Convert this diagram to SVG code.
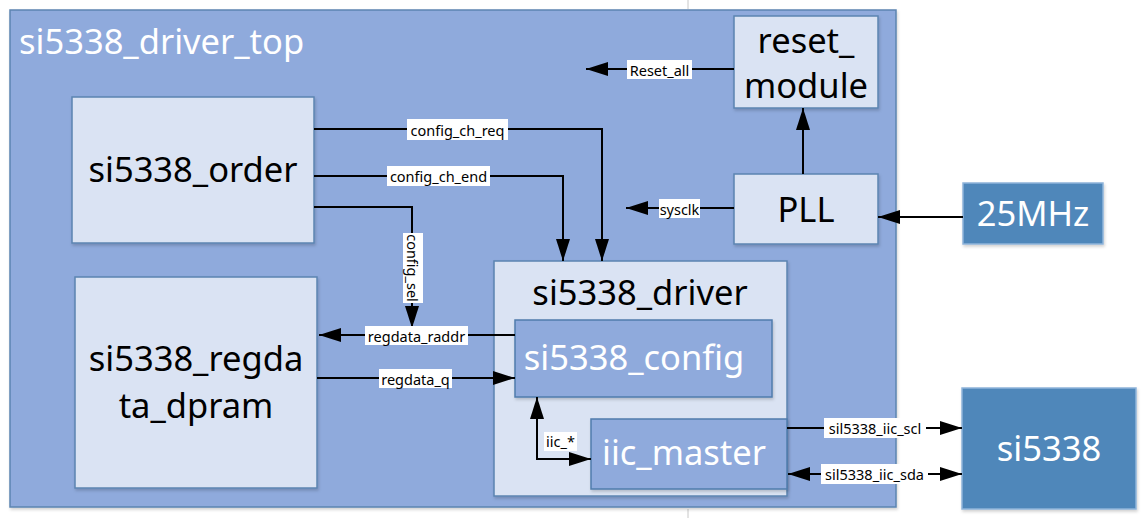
<svg xmlns="http://www.w3.org/2000/svg" width="1143" height="518" viewBox="0 0 1143 518">
<defs>
<marker id="ah" markerUnits="userSpaceOnUse" markerWidth="22" markerHeight="14" refX="22" refY="7" orient="auto-start-reverse" viewBox="0 0 22 14">
<path d="M0,0 L22,7 L0,14 z" fill="#000"/>
</marker>
<filter id="sh" x="-5%" y="-5%" width="110%" height="115%">
<feDropShadow dx="1" dy="2" stdDeviation="1.5" flood-color="#000" flood-opacity="0.18"/>
</filter>
<style>
.outer{fill:#8faadc;stroke:#5b84b1;stroke-width:1.5}
.light{fill:#dae3f3;stroke:#5b84b1;stroke-width:1.5}
.mid{fill:#8faadc;stroke:#4f7cac;stroke-width:1.5}
.dark{fill:#4f87ba;stroke:#8eb4da;stroke-width:1.5}
.big{font-family:"Noto Sans","Open Sans",sans-serif;font-size:34.5px;fill:#000;text-anchor:middle}
.bigw{font-family:"Noto Sans","Open Sans",sans-serif;font-size:34.5px;fill:#fff;text-anchor:middle}
.ln{fill:none;stroke:#000;stroke-width:2}
.lb{fill:#fff}
.lt{font-family:"Noto Sans","Open Sans",sans-serif;font-size:14.5px;fill:#000;text-anchor:middle;dominant-baseline:central}
</style>
</defs>
<rect width="1143" height="518" fill="#fff"/>
<line x1="688" y1="0" x2="688" y2="9" stroke="#c8c8c8" stroke-width="1"/>
<line x1="688" y1="509" x2="688" y2="518" stroke="#c8c8c8" stroke-width="1"/>

<g id="si5338_driver_top">
<rect class="outer" x="10" y="10" width="886" height="497" filter="url(#sh)"/>
<text class="bigw" x="19" y="54" style="text-anchor:start">si5338_driver_top</text>
</g>

<g id="si5338_order">
<rect class="light" x="72" y="97" width="242" height="146" filter="url(#sh)"/>
<text class="big" x="193" y="182">si5338_order</text>
</g>

<g id="si5338_regdata_dpram">
<rect class="light" x="75" y="277" width="242" height="211" filter="url(#sh)"/>
<text class="big" x="196" y="371">si5338_regda</text>
<text class="big" x="196" y="418">ta_dpram</text>
</g>

<g id="reset_module">
<rect class="light" x="734" y="16" width="144" height="92" filter="url(#sh)"/>
<text class="big" x="806" y="53">reset_</text>
<text class="big" x="806" y="98">module</text>
</g>

<g id="PLL">
<rect class="light" x="734" y="174" width="144" height="70" filter="url(#sh)"/>
<text class="big" x="806" y="222">PLL</text>
</g>

<g id="osc_25MHz">
<rect class="dark" x="963" y="183" width="140" height="61" filter="url(#sh)"/>
<text class="bigw" x="1033" y="226">25MHz</text>
</g>

<g id="si5338_driver">
<rect class="light" x="494" y="261" width="293" height="235" filter="url(#sh)"/>
<text class="big" x="640" y="305">si5338_driver</text>
</g>

<g id="si5338_config">
<rect class="mid" x="515" y="320" width="257" height="77" filter="url(#sh)"/>
<text class="bigw" x="634" y="370">si5338_config</text>
</g>

<g id="iic_master">
<rect class="mid" x="591" y="419" width="196" height="70" filter="url(#sh)"/>
<text class="bigw" x="684" y="465">iic_master</text>
</g>

<g id="si5338">
<rect class="dark" x="962" y="388" width="174" height="121" filter="url(#sh)"/>
<text class="bigw" x="1049" y="461">si5338</text>
</g>

<g id="connectors">
<path class="ln" d="M963,217 H878" marker-end="url(#ah)"/>
<path class="ln" d="M803,174 V108" marker-end="url(#ah)"/>
<path class="ln" d="M734,69 H586" marker-end="url(#ah)"/>
<rect class="lb" x="627" y="60" width="65" height="19"/>
<text class="lt" x="659.5" y="69.5">Reset_all</text>
<path class="ln" d="M734,208 H626" marker-end="url(#ah)"/>
<rect class="lb" x="659" y="199" width="41" height="19"/>
<text class="lt" x="679.5" y="208.5">sysclk</text>
<path class="ln" d="M314,129 H602 V261" marker-end="url(#ah)"/>
<rect class="lb" x="407" y="119" width="101" height="21"/>
<text class="lt" x="457.5" y="129.5">config_ch_req</text>
<path class="ln" d="M314,176 H563 V261" marker-end="url(#ah)"/>
<rect class="lb" x="387" y="166" width="103" height="20"/>
<text class="lt" x="438.5" y="176">config_ch_end</text>
<path class="ln" d="M314,207 H412 V328" marker-end="url(#ah)"/>
<rect class="lb" x="403" y="233" width="20" height="70"/>
<text class="lt" transform="translate(413,268) rotate(90)" x="0" y="0">config_sel</text>
<path class="ln" d="M515,335 H319" marker-end="url(#ah)"/>
<rect class="lb" x="365" y="326" width="103" height="19"/>
<text class="lt" x="416.5" y="335.5">regdata_raddr</text>
<path class="ln" d="M317,378 H515" marker-end="url(#ah)"/>
<rect class="lb" x="379" y="369" width="73" height="19"/>
<text class="lt" x="415.5" y="378.5">regdata_q</text>
<path class="ln" d="M537,397 V459 H591" marker-start="url(#ah)" marker-end="url(#ah)"/>
<rect class="lb" x="544" y="432" width="33" height="19"/>
<text class="lt" x="560.5" y="441">iic_*</text>
<path class="ln" d="M787,428 H962" marker-end="url(#ah)"/>
<rect class="lb" x="824" y="418" width="102" height="20"/>
<text class="lt" x="875" y="428">sil5338_iic_scl</text>
<path class="ln" d="M788,474 H962" marker-start="url(#ah)" marker-end="url(#ah)"/>
<rect class="lb" x="821" y="464" width="107" height="20"/>
<text class="lt" x="874.5" y="474">sil5338_iic_sda</text>
</g>
</svg>
